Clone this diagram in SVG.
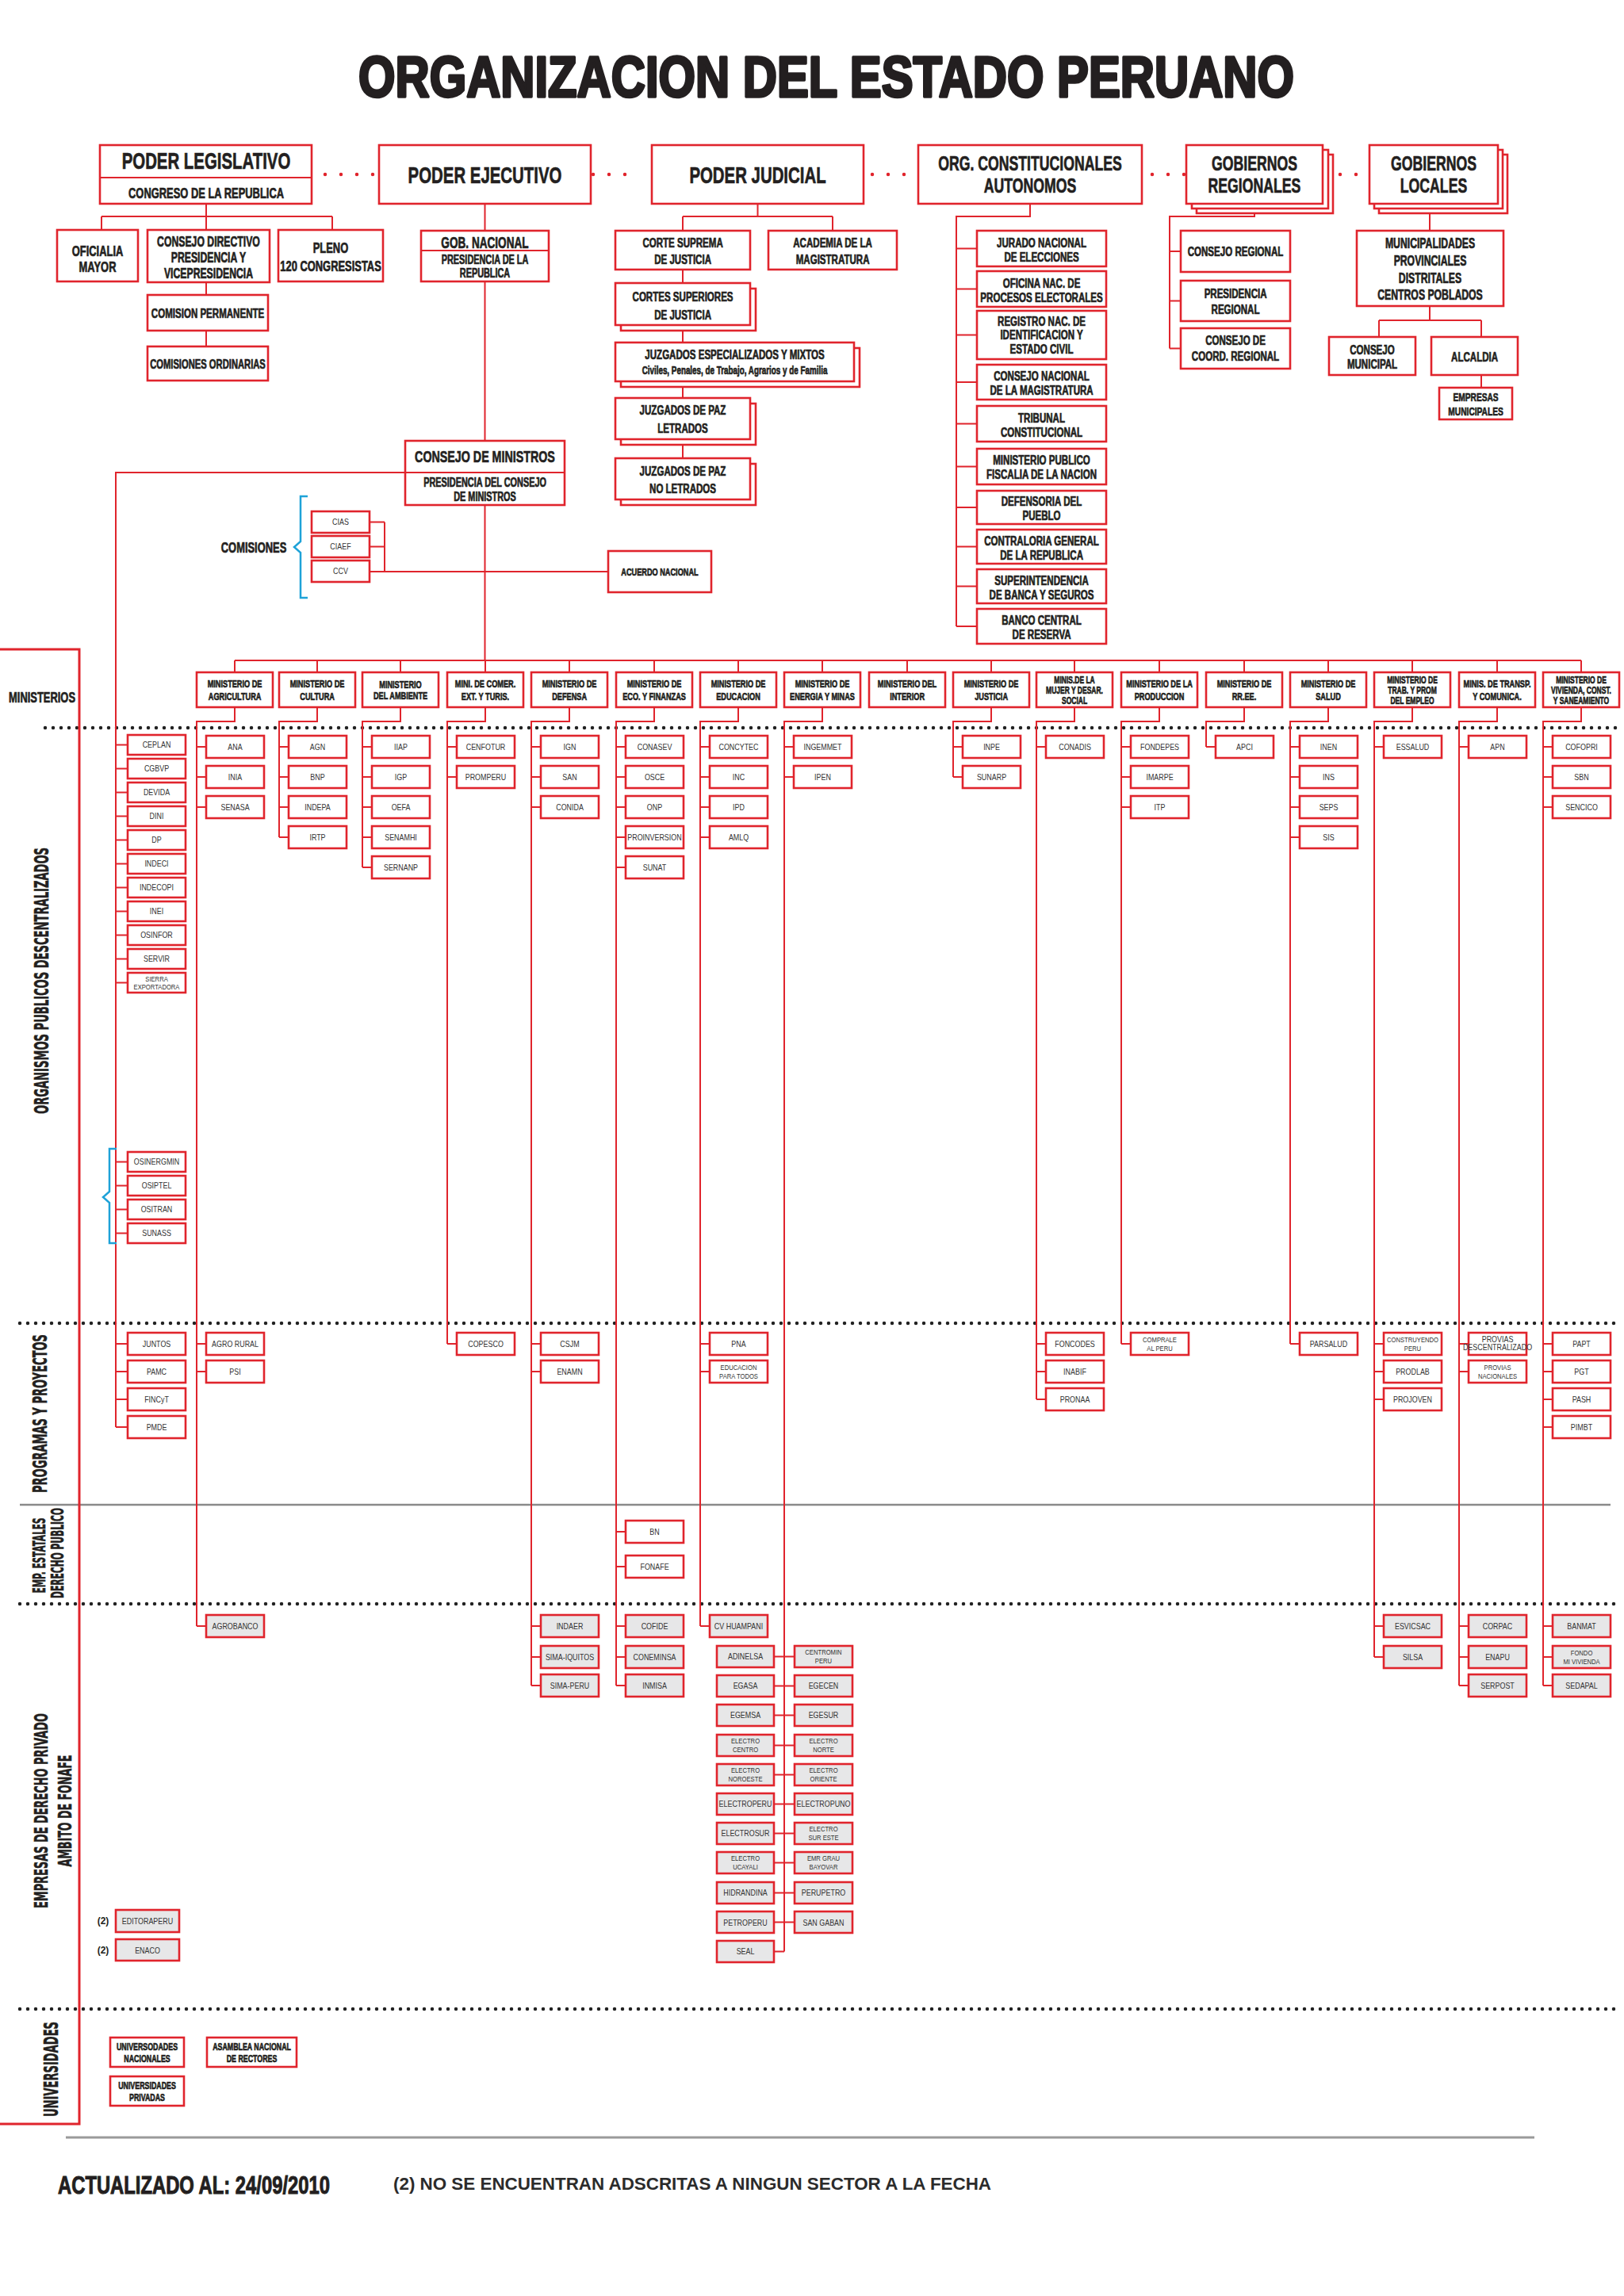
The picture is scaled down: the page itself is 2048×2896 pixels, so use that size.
<svg xmlns="http://www.w3.org/2000/svg" width="2048" height="2896" viewBox="0 0 2048 2896">
<style>
.bx{fill:#fff;stroke:#e0242c;stroke-width:2.6}
.bg{fill:#e7e7e8;stroke:#e0242c;stroke-width:2.6}
.ln{fill:none;stroke:#e0242c;stroke-width:2}
.rd{fill:none;stroke:#e0242c;stroke-width:4.5;stroke-dasharray:0 20;stroke-linecap:round}
.bd{fill:none;stroke:#222;stroke-width:4.5;stroke-dasharray:0 10;stroke-linecap:round}
.br{fill:none;stroke:#1ea2d8;stroke-width:2.5}
text{font-family:'Liberation Sans',Arial,sans-serif}
.h{font-weight:bold;fill:#231f20;stroke:#231f20;stroke-width:.7;text-anchor:middle;transform-box:fill-box;transform-origin:center;transform:scaleX(.68)}
.s{font-size:10.5px;fill:#333;text-anchor:middle;transform-box:fill-box;transform-origin:center;transform:scaleX(.85)}
.s2{font-size:9px}
.m{font-size:13.5px}
.m3{font-size:12.5px}
.sec{font-family:'DejaVu Sans',sans-serif;font-weight:bold;fill:#231f20;stroke:#231f20;stroke-width:.6;text-anchor:middle}
</style>

<text x="1042" y="122" font-family="'DejaVu Sans',sans-serif" font-weight="bold" font-size="72" fill="#231f20" stroke="#231f20" stroke-width="3.5" stroke-linejoin="round" text-anchor="middle" textLength="1180" lengthAdjust="spacingAndGlyphs">ORGANIZACION DEL ESTADO PERUANO</text>

<g id="separators">
<path class="bd" d="M57 918H2040M25 1669H2040M25 2023H2040M25 2534H2040"/>
<path fill="none" stroke="#8a8a8a" stroke-width="2.5" d="M25 1898H2031"/>
<path fill="none" stroke="#9a9a9a" stroke-width="3" d="M83 2696H1935"/>
<path class="rd" d="M410 220H472M748 220H806M1100 220H1158M1453 220H1494M1690 220H1712"/>
</g>

<g id="section-labels">
<path fill="none" stroke="#e0242c" stroke-width="3" d="M0 819H100V2679H0"/>
<text class="h" x="53" y="886" font-size="19">MINISTERIOS</text>
<text class="sec" transform="translate(61,1237) rotate(-90)" font-size="25" textLength="336" lengthAdjust="spacingAndGlyphs">ORGANISMOS PUBLICOS DESCENTRALIZADOS</text>
<text class="sec" transform="translate(59,1783) rotate(-90)" font-size="24" textLength="200" lengthAdjust="spacingAndGlyphs">PROGRAMAS Y PROYECTOS</text>
<text class="sec" transform="translate(57,1962) rotate(-90)" font-size="21" textLength="95" lengthAdjust="spacingAndGlyphs">EMP. ESTATALES</text>
<text class="sec" transform="translate(80,1959) rotate(-90)" font-size="21" textLength="114" lengthAdjust="spacingAndGlyphs">DERECHO PUBLICO</text>
<text class="sec" transform="translate(60,2284) rotate(-90)" font-size="23" textLength="246" lengthAdjust="spacingAndGlyphs">EMPRESAS DE DERECHO PRIVADO</text>
<text class="sec" transform="translate(90,2284) rotate(-90)" font-size="23" textLength="141" lengthAdjust="spacingAndGlyphs">AMBITO DE FONAFE</text>
<text class="sec" transform="translate(73,2610) rotate(-90)" font-size="24" textLength="120" lengthAdjust="spacingAndGlyphs">UNIVERSIDADES</text>
</g>

<g id="connectors" class="ln">
<path d="M260 257V273M128 273H419M128 273V290M260 273V290M419 273V290M260 356V372M260 417V437"/>
<path d="M611.5 257V291M611.5 355V556M611.5 637V833M511 596H146V1800"/>
<path d="M466 658.5H485M466 689.5H485M466 721H767M485 658.5V721"/>
<path d="M955.5 257V273M861 273H1050M861 273V291M1050 273V291M861 340V357M861 410V432M861 481V502M861 554V578"/>
<path d="M1299 257V273H1206V790M1206 313.5H1232M1206 364.5H1232M1206 422.5H1232M1206 482H1232M1206 534.5H1232M1206 588.5H1232M1206 640H1232M1206 689.5H1232M1206 739.5H1232M1206 790H1232"/>
<path d="M1582 269V273H1475V439.5M1475 317H1489M1475 379.5H1489M1475 439.5H1489"/>
<path d="M1803 269V291M1803 386V404M1739 404H1868M1739 404V425M1868 404V425M1868 473V489"/>
<path d="M296 833H1994M296 833V848M400 833V848M505 833V848M612 833V848M718 833V848M825 833V848M931 833V848M1037 833V848M1144 833V848M1250 833V848M1355 833V848M1462 833V848M1569 833V848M1675 833V848M1781 833V848M1888 833V848M1994 833V848"/>
<path d="M296 892V910H248V2051M400 892V910H352V1056M505 892V910H457V1094M612 892V910H564V1695M718 892V910H670V2126M825 892V910H777V2126M931 892V910H883V2051M1037 892V910H989V2461.5M1250 892V910H1202V980M1355 892V910H1307V1765M1462 892V910H1414V1695M1569 892V910H1521V942M1675 892V910H1627V1695M1781 892V910H1733V2090M1888 892V910H1840V2126M1994 892V910H1946V2126"/>
<path d="M146 939.5h15M146 969.5h15M146 999.5h15M146 1029.5h15M146 1059.5h15M146 1089.5h15M146 1119.5h15M146 1149.5h15M146 1179.5h15M146 1209.5h15M146 1239.5h15M146 1465.5h15M146 1495.5h15M146 1525.5h15M146 1555.5h15M146 1695h15M146 1730h15M146 1765h15M146 1800h15"/>
<path d="M248 942h12M248 980h12M248 1018h12M248 1695h12M248 1730h12M248 2051h12M352 942h12M352 980h12M352 1018h12M352 1056h12M457 942h12M457 980h12M457 1018h12M457 1056h12M457 1094h12M564 942h12M564 980h12M564 1695h12"/>
<path d="M670 942h12M670 980h12M670 1018h12M670 1695h12M670 1730h12M670 2051h12M670 2090h12M670 2126h12M777 942h12M777 980h12M777 1018h12M777 1056h12M777 1094h12M777 1932h12M777 1976h12M777 2051h12M777 2090h12M777 2126h12M883 942h12M883 980h12M883 1018h12M883 1056h12M883 1695h12M883 1730h12M883 2051h12M989 942h12M989 980h12"/>
<path d="M1202 942h12M1202 980h12M1307 942h12M1307 1695h12M1307 1730h12M1307 1765h12M1414 942h12M1414 980h12M1414 1018h12M1414 1695h12M1521 942h12M1627 942h12M1627 980h12M1627 1018h12M1627 1056h12M1627 1695h12"/>
<path d="M1733 942h12M1733 1695h12M1733 1730h12M1733 1765h12M1733 2051h12M1733 2090h12M1840 942h12M1840 1695h12M1840 1730h12M1840 2051h12M1840 2090h12M1840 2126h12M1946 942h12M1946 980h12M1946 1018h12M1946 1695h12M1946 1730h12M1946 1765h12M1946 1800h12M1946 2051h12M1946 2090h12M1946 2126h12"/>
<path d="M976 2089.5H1002M976 2126.5H1002M976 2163.5H1002M976 2201.5H1002M976 2238.5H1002M976 2275.5H1002M976 2312.5H1002M976 2349.5H1002M976 2387.5H1002M976 2424.5H1002M976 2461.5H989"/>
</g>

<g id="brackets">
<path class="br" d="M388 626H379V683L371 690L379 697V754H388"/>
<path class="br" d="M147 1449H138V1503L130 1510L138 1517V1568H147"/>
</g>

<!-- TOP LEVEL -->
<g id="poder-legislativo"><rect class="bx" x="126" y="183" width="267" height="74"/><path class="ln" stroke-width="2.6" d="M126 224H393"/><text class="h" x="260" y="213" font-size="30">PODER LEGISLATIVO</text><text class="h" x="260" y="250" font-size="19">CONGRESO DE LA REPUBLICA</text></g>
<g id="poder-ejecutivo"><rect class="bx" x="478" y="183" width="267" height="74"/><text class="h" x="611.5" y="231" font-size="30">PODER EJECUTIVO</text></g>
<g id="poder-judicial"><rect class="bx" x="822" y="183" width="267" height="74"/><text class="h" x="955.5" y="231" font-size="30">PODER JUDICIAL</text></g>
<g id="org-constitucionales"><rect class="bx" x="1158" y="183" width="282" height="74"/><text class="h" x="1299" y="215" font-size="26">ORG. CONSTITUCIONALES</text><text class="h" x="1299" y="243" font-size="26">AUTONOMOS</text></g>
<g id="gobiernos-regionales"><rect class="bx" x="1509" y="195" width="172" height="74"/><rect class="bx" x="1503" y="189" width="172" height="74"/><rect class="bx" x="1496" y="183" width="172" height="74"/><text class="h" x="1582" y="215" font-size="26">GOBIERNOS</text><text class="h" x="1582" y="243" font-size="26">REGIONALES</text></g>
<g id="gobiernos-locales"><rect class="bx" x="1739" y="195" width="162" height="74"/><rect class="bx" x="1733" y="189" width="162" height="74"/><rect class="bx" x="1727" y="183" width="162" height="74"/><text class="h" x="1808" y="215" font-size="26">GOBIERNOS</text><text class="h" x="1808" y="243" font-size="26">LOCALES</text></g>

<!-- LEGISLATIVO -->
<g id="oficialia-mayor"><rect class="bx" x="72" y="290" width="102" height="65"/><text class="h" x="123" y="323" font-size="19">OFICIALIA</text><text class="h" x="123" y="343" font-size="19">MAYOR</text></g>
<g id="consejo-directivo"><rect class="bx" x="186" y="290" width="154" height="66"/><text class="h" x="263" y="311" font-size="18">CONSEJO DIRECTIVO</text><text class="h" x="263" y="331" font-size="18">PRESIDENCIA Y</text><text class="h" x="263" y="351" font-size="18">VICEPRESIDENCIA</text></g>
<g id="pleno"><rect class="bx" x="351" y="290" width="132" height="65"/><text class="h" x="417" y="319" font-size="19">PLENO</text><text class="h" x="417" y="342" font-size="19">120 CONGRESISTAS</text></g>
<g id="comision-permanente"><rect class="bx" x="186" y="372" width="152" height="45"/><text class="h" x="262" y="401" font-size="17">COMISION PERMANENTE</text></g>
<g id="comisiones-ordinarias"><rect class="bx" x="186" y="437" width="152" height="43"/><text class="h" x="262" y="465" font-size="16.5">COMISIONES ORDINARIAS</text></g>

<!-- EJECUTIVO -->
<g id="gob-nacional"><rect class="bx" x="531" y="291" width="161" height="64"/><path class="ln" stroke-width="2.6" d="M531 316H692"/><text class="h" x="611.5" y="313" font-size="20">GOB. NACIONAL</text><text class="h" x="611.5" y="333" font-size="16">PRESIDENCIA DE  LA</text><text class="h" x="611.5" y="350" font-size="16">REPUBLICA</text></g>
<g id="consejo-ministros"><rect class="bx" x="511" y="556" width="201" height="81"/><path class="ln" stroke-width="2.6" d="M511 596H712"/><text class="h" x="611.5" y="583" font-size="21">CONSEJO DE MINISTROS</text><text class="h" x="611.5" y="614" font-size="16">PRESIDENCIA DEL CONSEJO</text><text class="h" x="611.5" y="632" font-size="16">DE MINISTROS</text></g>
<text class="h" x="320" y="697" font-size="19">COMISIONES</text>
<g id="cias"><rect class="bx" x="393" y="645" width="73" height="27"/><text class="s" x="429.5" y="662">CIAS</text></g>
<g id="ciaef"><rect class="bx" x="393" y="676" width="73" height="27"/><text class="s" x="429.5" y="693">CIAEF</text></g>
<g id="ccv"><rect class="bx" x="393" y="707" width="73" height="27"/><text class="s" x="429.5" y="724">CCV</text></g>
<g id="acuerdo-nacional"><rect class="bx" x="767" y="695" width="130" height="52"/><text class="h" x="832" y="726" font-size="13.5">ACUERDO NACIONAL</text></g>

<!-- JUDICIAL -->
<g id="corte-suprema"><rect class="bx" x="776" y="291" width="170" height="49"/><text class="h" x="861" y="312" font-size="17">CORTE SUPREMA</text><text class="h" x="861" y="333" font-size="17">DE JUSTICIA</text></g>
<g id="academia"><rect class="bx" x="969" y="291" width="162" height="49"/><text class="h" x="1050" y="312" font-size="17">ACADEMIA DE LA</text><text class="h" x="1050" y="333" font-size="17">MAGISTRATURA</text></g>
<g id="cortes-superiores"><rect class="bx" x="783" y="364" width="170" height="53"/><rect class="bx" x="776" y="357" width="170" height="53"/><text class="h" x="861" y="380" font-size="17">CORTES SUPERIORES</text><text class="h" x="861" y="403" font-size="17">DE JUSTICIA</text></g>
<g id="juzgados-especializados"><rect class="bx" x="783" y="439" width="301" height="49"/><rect class="bx" x="776" y="432" width="301" height="49"/><text class="h" x="926.5" y="453" font-size="17">JUZGADOS ESPECIALIZADOS Y MIXTOS</text><text class="h" x="926.5" y="472" font-size="14.5">Civiles, Penales, de Trabajo, Agrarios y de Familia</text></g>
<g id="juzgados-paz-letrados"><rect class="bx" x="783" y="509" width="170" height="52"/><rect class="bx" x="776" y="502" width="170" height="52"/><text class="h" x="861" y="523" font-size="17">JUZGADOS DE PAZ</text><text class="h" x="861" y="546" font-size="17">LETRADOS</text></g>
<g id="juzgados-paz-no-letrados"><rect class="bx" x="783" y="585" width="170" height="52"/><rect class="bx" x="776" y="578" width="170" height="52"/><text class="h" x="861" y="600" font-size="17">JUZGADOS DE PAZ</text><text class="h" x="861" y="622" font-size="17">NO LETRADOS</text></g>

<!-- ORG CONSTITUCIONALES -->
<g id="jne"><rect class="bx" x="1232" y="291" width="163" height="45"/><text class="h" x="1313.5" y="312" font-size="17">JURADO NACIONAL</text><text class="h" x="1313.5" y="330" font-size="17">DE ELECCIONES</text></g>
<g id="onpe"><rect class="bx" x="1232" y="342" width="163" height="45"/><text class="h" x="1313.5" y="363" font-size="17">OFICINA NAC. DE</text><text class="h" x="1313.5" y="381" font-size="17">PROCESOS ELECTORALES</text></g>
<g id="reniec"><rect class="bx" x="1232" y="392" width="163" height="61"/><text class="h" x="1313.5" y="411" font-size="17">REGISTRO NAC. DE</text><text class="h" x="1313.5" y="428" font-size="17">IDENTIFICACION Y</text><text class="h" x="1313.5" y="446" font-size="17">ESTADO CIVIL</text></g>
<g id="cnm"><rect class="bx" x="1232" y="460" width="163" height="44"/><text class="h" x="1313.5" y="480" font-size="17">CONSEJO NACIONAL</text><text class="h" x="1313.5" y="498" font-size="17">DE LA MAGISTRATURA</text></g>
<g id="tc"><rect class="bx" x="1232" y="512" width="163" height="45"/><text class="h" x="1313.5" y="533" font-size="17">TRIBUNAL</text><text class="h" x="1313.5" y="551" font-size="17">CONSTITUCIONAL</text></g>
<g id="mp"><rect class="bx" x="1232" y="566" width="163" height="45"/><text class="h" x="1313.5" y="586" font-size="17">MINISTERIO PUBLICO</text><text class="h" x="1313.5" y="604" font-size="17">FISCALIA DE LA NACION</text></g>
<g id="defensoria"><rect class="bx" x="1232" y="619" width="163" height="42"/><text class="h" x="1313.5" y="638" font-size="17">DEFENSORIA DEL</text><text class="h" x="1313.5" y="656" font-size="17">PUEBLO</text></g>
<g id="contraloria"><rect class="bx" x="1232" y="668" width="163" height="43"/><text class="h" x="1313.5" y="688" font-size="17">CONTRALORIA GENERAL</text><text class="h" x="1313.5" y="706" font-size="17">DE LA REPUBLICA</text></g>
<g id="sbs"><rect class="bx" x="1232" y="718" width="163" height="43"/><text class="h" x="1313.5" y="738" font-size="17">SUPERINTENDENCIA</text><text class="h" x="1313.5" y="756" font-size="17">DE BANCA Y SEGUROS</text></g>
<g id="bcr"><rect class="bx" x="1232" y="768" width="163" height="44"/><text class="h" x="1313.5" y="788" font-size="17">BANCO CENTRAL</text><text class="h" x="1313.5" y="806" font-size="17">DE RESERVA</text></g>

<!-- GOB REGIONALES / LOCALES -->
<g id="consejo-regional"><rect class="bx" x="1489" y="291" width="138" height="52"/><text class="h" x="1558" y="323" font-size="17">CONSEJO REGIONAL</text></g>
<g id="presidencia-regional"><rect class="bx" x="1489" y="354" width="138" height="51"/><text class="h" x="1558" y="376" font-size="17">PRESIDENCIA</text><text class="h" x="1558" y="396" font-size="17">REGIONAL</text></g>
<g id="consejo-coord-regional"><rect class="bx" x="1489" y="414" width="138" height="51"/><text class="h" x="1558" y="435" font-size="17">CONSEJO DE</text><text class="h" x="1558" y="455" font-size="17">COORD. REGIONAL</text></g>
<g id="municipalidades"><rect class="bx" x="1711" y="291" width="185" height="95"/><text class="h" x="1803.5" y="313" font-size="18">MUNICIPALIDADES</text><text class="h" x="1803.5" y="335" font-size="18">PROVINCIALES</text><text class="h" x="1803.5" y="357" font-size="18">DISTRITALES</text><text class="h" x="1803.5" y="378" font-size="18">CENTROS POBLADOS</text></g>
<g id="consejo-municipal"><rect class="bx" x="1676" y="425" width="109" height="48"/><text class="h" x="1730.5" y="447" font-size="17">CONSEJO</text><text class="h" x="1730.5" y="465" font-size="17">MUNICIPAL</text></g>
<g id="alcaldia"><rect class="bx" x="1805" y="425" width="109" height="48"/><text class="h" x="1859.5" y="456" font-size="17">ALCALDIA</text></g>
<g id="empresas-municipales"><rect class="bx" x="1815" y="489" width="92" height="40"/><text class="h" x="1861" y="506" font-size="15">EMPRESAS</text><text class="h" x="1861" y="524" font-size="15">MUNICIPALES</text></g>

<!-- MINISTERIOS -->
<g id="min-agricultura"><rect class="bx" x="248" y="848" width="96" height="44"/><text class="h m" x="296" y="867">MINISTERIO DE</text><text class="h m" x="296" y="883">AGRICULTURA</text></g>
<g id="min-cultura"><rect class="bx" x="352" y="848" width="96" height="44"/><text class="h m" x="400" y="867">MINISTERIO DE</text><text class="h m" x="400" y="883">CULTURA</text></g>
<g id="min-ambiente"><rect class="bx" x="457" y="848" width="96" height="44"/><text class="h m" x="505" y="868">MINISTERIO</text><text class="h m" x="505" y="882">DEL AMBIENTE</text></g>
<g id="min-comercio"><rect class="bx" x="564" y="848" width="96" height="44"/><text class="h m" x="612" y="867">MINI. DE COMER.</text><text class="h m" x="612" y="883">EXT. Y TURIS.</text></g>
<g id="min-defensa"><rect class="bx" x="670" y="848" width="96" height="44"/><text class="h m" x="718" y="867">MINISTERIO DE</text><text class="h m" x="718" y="883">DEFENSA</text></g>
<g id="min-economia"><rect class="bx" x="777" y="848" width="96" height="44"/><text class="h m" x="825" y="867">MINISTERIO DE</text><text class="h m" x="825" y="883">ECO. Y FINANZAS</text></g>
<g id="min-educacion"><rect class="bx" x="883" y="848" width="96" height="44"/><text class="h m" x="931" y="867">MINISTERIO DE</text><text class="h m" x="931" y="883">EDUCACION</text></g>
<g id="min-energia"><rect class="bx" x="989" y="848" width="96" height="44"/><text class="h m" x="1037" y="867">MINISTERIO DE</text><text class="h m" x="1037" y="883">ENERGIA Y MINAS</text></g>
<g id="min-interior"><rect class="bx" x="1096" y="848" width="96" height="44"/><text class="h m" x="1144" y="867">MINISTERIO DEL</text><text class="h m" x="1144" y="883">INTERIOR</text></g>
<g id="min-justicia"><rect class="bx" x="1202" y="848" width="96" height="44"/><text class="h m" x="1250" y="867">MINISTERIO DE</text><text class="h m" x="1250" y="883">JUSTICIA</text></g>
<g id="min-mujer"><rect class="bx" x="1307" y="848" width="96" height="44"/><text class="h m3" x="1355" y="862">MINIS.DE LA</text><text class="h m3" x="1355" y="875">MUJER Y DESAR.</text><text class="h m3" x="1355" y="888">SOCIAL</text></g>
<g id="min-produccion"><rect class="bx" x="1414" y="848" width="96" height="44"/><text class="h m" x="1462" y="867">MINISTERIO DE LA</text><text class="h m" x="1462" y="883">PRODUCCION</text></g>
<g id="min-rree"><rect class="bx" x="1521" y="848" width="96" height="44"/><text class="h m" x="1569" y="867">MINISTERIO DE</text><text class="h m" x="1569" y="883">RR.EE.</text></g>
<g id="min-salud"><rect class="bx" x="1627" y="848" width="96" height="44"/><text class="h m" x="1675" y="867">MINISTERIO DE</text><text class="h m" x="1675" y="883">SALUD</text></g>
<g id="min-trabajo"><rect class="bx" x="1733" y="848" width="96" height="44"/><text class="h m3" x="1781" y="862">MINISTERIO DE</text><text class="h m3" x="1781" y="875">TRAB. Y PROM</text><text class="h m3" x="1781" y="888">DEL EMPLEO</text></g>
<g id="min-transportes"><rect class="bx" x="1840" y="848" width="96" height="44"/><text class="h m" x="1888" y="867">MINIS. DE TRANSP.</text><text class="h m" x="1888" y="883">Y COMUNICA.</text></g>
<g id="min-vivienda"><rect class="bx" x="1946" y="848" width="96" height="44"/><text class="h m3" x="1994" y="862">MINISTERIO DE</text><text class="h m3" x="1994" y="875">VIVIENDA, CONST.</text><text class="h m3" x="1994" y="888">Y SANEAMIENTO</text></g>

<!-- PCM organismos -->
<g id="ceplan"><rect class="bx" x="161" y="927" width="73" height="25"/><text class="s" x="197.5" y="943.5">CEPLAN</text></g>
<g id="cgbvp"><rect class="bx" x="161" y="957" width="73" height="25"/><text class="s" x="197.5" y="973.5">CGBVP</text></g>
<g id="devida"><rect class="bx" x="161" y="987" width="73" height="25"/><text class="s" x="197.5" y="1003.5">DEVIDA</text></g>
<g id="dini"><rect class="bx" x="161" y="1017" width="73" height="25"/><text class="s" x="197.5" y="1033.5">DINI</text></g>
<g id="dp"><rect class="bx" x="161" y="1047" width="73" height="25"/><text class="s" x="197.5" y="1063.5">DP</text></g>
<g id="indeci"><rect class="bx" x="161" y="1077" width="73" height="25"/><text class="s" x="197.5" y="1093.5">INDECI</text></g>
<g id="indecopi"><rect class="bx" x="161" y="1107" width="73" height="25"/><text class="s" x="197.5" y="1123.5">INDECOPI</text></g>
<g id="inei"><rect class="bx" x="161" y="1137" width="73" height="25"/><text class="s" x="197.5" y="1153.5">INEI</text></g>
<g id="osinfor"><rect class="bx" x="161" y="1167" width="73" height="25"/><text class="s" x="197.5" y="1183.5">OSINFOR</text></g>
<g id="servir"><rect class="bx" x="161" y="1197" width="73" height="25"/><text class="s" x="197.5" y="1213.5">SERVIR</text></g>
<g id="sierra-exportadora"><rect class="bx" x="161" y="1227" width="73" height="25"/><text class="s s2" x="197.5" y="1238">SIERRA</text><text class="s s2" x="197.5" y="1248">EXPORTADORA</text></g>
<g id="osinergmin"><rect class="bx" x="161" y="1453" width="73" height="25"/><text class="s" x="197.5" y="1469.5">OSINERGMIN</text></g>
<g id="osiptel"><rect class="bx" x="161" y="1483" width="73" height="25"/><text class="s" x="197.5" y="1499.5">OSIPTEL</text></g>
<g id="ositran"><rect class="bx" x="161" y="1513" width="73" height="25"/><text class="s" x="197.5" y="1529.5">OSITRAN</text></g>
<g id="sunass"><rect class="bx" x="161" y="1543" width="73" height="25"/><text class="s" x="197.5" y="1559.5">SUNASS</text></g>
<g id="juntos"><rect class="bx" x="161" y="1681" width="73" height="28"/><text class="s" x="197.5" y="1699">JUNTOS</text></g>
<g id="pamc"><rect class="bx" x="161" y="1716" width="73" height="28"/><text class="s" x="197.5" y="1734">PAMC</text></g>
<g id="fincyt"><rect class="bx" x="161" y="1751" width="73" height="28"/><text class="s" x="197.5" y="1769">FINCyT</text></g>
<g id="pmde"><rect class="bx" x="161" y="1786" width="73" height="28"/><text class="s" x="197.5" y="1804">PMDE</text></g>

<!-- Agricultura -->
<g id="ana"><rect class="bx" x="260" y="928" width="73" height="28"/><text class="s" x="296.5" y="946">ANA</text></g>
<g id="inia"><rect class="bx" x="260" y="966" width="73" height="28"/><text class="s" x="296.5" y="984">INIA</text></g>
<g id="senasa"><rect class="bx" x="260" y="1004" width="73" height="28"/><text class="s" x="296.5" y="1022">SENASA</text></g>
<g id="agro-rural"><rect class="bx" x="260" y="1681" width="73" height="28"/><text class="s" x="296.5" y="1699">AGRO RURAL</text></g>
<g id="psi"><rect class="bx" x="260" y="1716" width="73" height="28"/><text class="s" x="296.5" y="1734">PSI</text></g>
<g id="agrobanco"><rect class="bg" x="260" y="2037" width="73" height="28"/><text class="s" x="296.5" y="2055">AGROBANCO</text></g>
<!-- Cultura -->
<g id="agn"><rect class="bx" x="364" y="928" width="73" height="28"/><text class="s" x="400.5" y="946">AGN</text></g>
<g id="bnp"><rect class="bx" x="364" y="966" width="73" height="28"/><text class="s" x="400.5" y="984">BNP</text></g>
<g id="indepa"><rect class="bx" x="364" y="1004" width="73" height="28"/><text class="s" x="400.5" y="1022">INDEPA</text></g>
<g id="irtp"><rect class="bx" x="364" y="1042" width="73" height="28"/><text class="s" x="400.5" y="1060">IRTP</text></g>
<!-- Ambiente -->
<g id="iiap"><rect class="bx" x="469" y="928" width="73" height="28"/><text class="s" x="505.5" y="946">IIAP</text></g>
<g id="igp"><rect class="bx" x="469" y="966" width="73" height="28"/><text class="s" x="505.5" y="984">IGP</text></g>
<g id="oefa"><rect class="bx" x="469" y="1004" width="73" height="28"/><text class="s" x="505.5" y="1022">OEFA</text></g>
<g id="senamhi"><rect class="bx" x="469" y="1042" width="73" height="28"/><text class="s" x="505.5" y="1060">SENAMHI</text></g>
<g id="sernanp"><rect class="bx" x="469" y="1080" width="73" height="28"/><text class="s" x="505.5" y="1098">SERNANP</text></g>
<!-- Comercio -->
<g id="cenfotur"><rect class="bx" x="576" y="928" width="73" height="28"/><text class="s" x="612.5" y="946">CENFOTUR</text></g>
<g id="promperu"><rect class="bx" x="576" y="966" width="73" height="28"/><text class="s" x="612.5" y="984">PROMPERU</text></g>
<g id="copesco"><rect class="bx" x="576" y="1681" width="73" height="28"/><text class="s" x="612.5" y="1699">COPESCO</text></g>
<!-- Defensa -->
<g id="ign"><rect class="bx" x="682" y="928" width="73" height="28"/><text class="s" x="718.5" y="946">IGN</text></g>
<g id="san"><rect class="bx" x="682" y="966" width="73" height="28"/><text class="s" x="718.5" y="984">SAN</text></g>
<g id="conida"><rect class="bx" x="682" y="1004" width="73" height="28"/><text class="s" x="718.5" y="1022">CONIDA</text></g>
<g id="csjm"><rect class="bx" x="682" y="1681" width="73" height="28"/><text class="s" x="718.5" y="1699">CSJM</text></g>
<g id="enamn"><rect class="bx" x="682" y="1716" width="73" height="28"/><text class="s" x="718.5" y="1734">ENAMN</text></g>
<g id="indaer"><rect class="bg" x="682" y="2037" width="73" height="28"/><text class="s" x="718.5" y="2055">INDAER</text></g>
<g id="sima-iquitos"><rect class="bg" x="682" y="2076" width="73" height="28"/><text class="s" x="718.5" y="2094">SIMA-IQUITOS</text></g>
<g id="sima-peru"><rect class="bg" x="682" y="2112" width="73" height="28"/><text class="s" x="718.5" y="2130">SIMA-PERU</text></g>
<!-- Economia -->
<g id="conasev"><rect class="bx" x="789" y="928" width="73" height="28"/><text class="s" x="825.5" y="946">CONASEV</text></g>
<g id="osce"><rect class="bx" x="789" y="966" width="73" height="28"/><text class="s" x="825.5" y="984">OSCE</text></g>
<g id="onp"><rect class="bx" x="789" y="1004" width="73" height="28"/><text class="s" x="825.5" y="1022">ONP</text></g>
<g id="proinversion"><rect class="bx" x="789" y="1042" width="73" height="28"/><text class="s" x="825.5" y="1060">PROINVERSION</text></g>
<g id="sunat"><rect class="bx" x="789" y="1080" width="73" height="28"/><text class="s" x="825.5" y="1098">SUNAT</text></g>
<g id="bn"><rect class="bx" x="789" y="1918" width="73" height="28"/><text class="s" x="825.5" y="1936">BN</text></g>
<g id="fonafe"><rect class="bx" x="789" y="1962" width="73" height="28"/><text class="s" x="825.5" y="1980">FONAFE</text></g>
<g id="cofide"><rect class="bg" x="789" y="2037" width="73" height="28"/><text class="s" x="825.5" y="2055">COFIDE</text></g>
<g id="coneminsa"><rect class="bg" x="789" y="2076" width="73" height="28"/><text class="s" x="825.5" y="2094">CONEMINSA</text></g>
<g id="inmisa"><rect class="bg" x="789" y="2112" width="73" height="28"/><text class="s" x="825.5" y="2130">INMISA</text></g>
<!-- Educacion -->
<g id="concytec"><rect class="bx" x="895" y="928" width="73" height="28"/><text class="s" x="931.5" y="946">CONCYTEC</text></g>
<g id="inc"><rect class="bx" x="895" y="966" width="73" height="28"/><text class="s" x="931.5" y="984">INC</text></g>
<g id="ipd"><rect class="bx" x="895" y="1004" width="73" height="28"/><text class="s" x="931.5" y="1022">IPD</text></g>
<g id="amlq"><rect class="bx" x="895" y="1042" width="73" height="28"/><text class="s" x="931.5" y="1060">AMLQ</text></g>
<g id="pna"><rect class="bx" x="895" y="1681" width="73" height="28"/><text class="s" x="931.5" y="1699">PNA</text></g>
<g id="educacion-para-todos"><rect class="bx" x="895" y="1716" width="73" height="28"/><text class="s s2" x="931.5" y="1728">EDUCACION</text><text class="s s2" x="931.5" y="1739">PARA TODOS</text></g>
<g id="cv-huampani"><rect class="bg" x="895" y="2037" width="73" height="28"/><text class="s" x="931.5" y="2055">CV HUAMPANI</text></g>
<!-- Energia -->
<g id="ingemmet"><rect class="bx" x="1001" y="928" width="73" height="28"/><text class="s" x="1037.5" y="946">INGEMMET</text></g>
<g id="ipen"><rect class="bx" x="1001" y="966" width="73" height="28"/><text class="s" x="1037.5" y="984">IPEN</text></g>
<g id="adinelsa"><rect class="bg" x="904" y="2076" width="72" height="27"/><text class="s" x="940" y="2093.5">ADINELSA</text></g>
<g id="egasa"><rect class="bg" x="904" y="2113" width="72" height="27"/><text class="s" x="940" y="2130.5">EGASA</text></g>
<g id="egemsa"><rect class="bg" x="904" y="2150" width="72" height="27"/><text class="s" x="940" y="2167.5">EGEMSA</text></g>
<g id="electro-centro"><rect class="bg" x="904" y="2188" width="72" height="27"/><text class="s s2" x="940" y="2199">ELECTRO</text><text class="s s2" x="940" y="2210">CENTRO</text></g>
<g id="electro-noroeste"><rect class="bg" x="904" y="2225" width="72" height="27"/><text class="s s2" x="940" y="2236">ELECTRO</text><text class="s s2" x="940" y="2247">NOROESTE</text></g>
<g id="electroperu"><rect class="bg" x="904" y="2262" width="72" height="27"/><text class="s" x="940" y="2279.5">ELECTROPERU</text></g>
<g id="electrosur"><rect class="bg" x="904" y="2299" width="72" height="27"/><text class="s" x="940" y="2316.5">ELECTROSUR</text></g>
<g id="electro-ucayali"><rect class="bg" x="904" y="2336" width="72" height="27"/><text class="s s2" x="940" y="2347">ELECTRO</text><text class="s s2" x="940" y="2358">UCAYALI</text></g>
<g id="hidrandina"><rect class="bg" x="904" y="2374" width="72" height="27"/><text class="s" x="940" y="2391.5">HIDRANDINA</text></g>
<g id="petroperu"><rect class="bg" x="904" y="2411" width="72" height="27"/><text class="s" x="940" y="2428.5">PETROPERU</text></g>
<g id="seal"><rect class="bg" x="904" y="2448" width="72" height="27"/><text class="s" x="940" y="2465.5">SEAL</text></g>
<g id="centromin"><rect class="bg" x="1002" y="2076" width="73" height="27"/><text class="s s2" x="1038.5" y="2087">CENTROMIN</text><text class="s s2" x="1038.5" y="2098">PERU</text></g>
<g id="egecen"><rect class="bg" x="1002" y="2113" width="73" height="27"/><text class="s" x="1038.5" y="2130.5">EGECEN</text></g>
<g id="egesur"><rect class="bg" x="1002" y="2150" width="73" height="27"/><text class="s" x="1038.5" y="2167.5">EGESUR</text></g>
<g id="electro-norte"><rect class="bg" x="1002" y="2188" width="73" height="27"/><text class="s s2" x="1038.5" y="2199">ELECTRO</text><text class="s s2" x="1038.5" y="2210">NORTE</text></g>
<g id="electro-oriente"><rect class="bg" x="1002" y="2225" width="73" height="27"/><text class="s s2" x="1038.5" y="2236">ELECTRO</text><text class="s s2" x="1038.5" y="2247">ORIENTE</text></g>
<g id="electropuno"><rect class="bg" x="1002" y="2262" width="73" height="27"/><text class="s" x="1038.5" y="2279.5">ELECTROPUNO</text></g>
<g id="electro-sur-este"><rect class="bg" x="1002" y="2299" width="73" height="27"/><text class="s s2" x="1038.5" y="2310">ELECTRO</text><text class="s s2" x="1038.5" y="2321">SUR ESTE</text></g>
<g id="emr-grau"><rect class="bg" x="1002" y="2336" width="73" height="27"/><text class="s s2" x="1038.5" y="2347">EMR GRAU</text><text class="s s2" x="1038.5" y="2358">BAYOVAR</text></g>
<g id="perupetro"><rect class="bg" x="1002" y="2374" width="73" height="27"/><text class="s" x="1038.5" y="2391.5">PERUPETRO</text></g>
<g id="san-gaban"><rect class="bg" x="1002" y="2411" width="73" height="27"/><text class="s" x="1038.5" y="2428.5">SAN GABAN</text></g>
<!-- Justicia -->
<g id="inpe"><rect class="bx" x="1214" y="928" width="73" height="28"/><text class="s" x="1250.5" y="946">INPE</text></g>
<g id="sunarp"><rect class="bx" x="1214" y="966" width="73" height="28"/><text class="s" x="1250.5" y="984">SUNARP</text></g>
<!-- Mujer -->
<g id="conadis"><rect class="bx" x="1319" y="928" width="73" height="28"/><text class="s" x="1355.5" y="946">CONADIS</text></g>
<g id="foncodes"><rect class="bx" x="1319" y="1681" width="73" height="28"/><text class="s" x="1355.5" y="1699">FONCODES</text></g>
<g id="inabif"><rect class="bx" x="1319" y="1716" width="73" height="28"/><text class="s" x="1355.5" y="1734">INABIF</text></g>
<g id="pronaa"><rect class="bx" x="1319" y="1751" width="73" height="28"/><text class="s" x="1355.5" y="1769">PRONAA</text></g>
<!-- Produccion -->
<g id="fondepes"><rect class="bx" x="1426" y="928" width="73" height="28"/><text class="s" x="1462.5" y="946">FONDEPES</text></g>
<g id="imarpe"><rect class="bx" x="1426" y="966" width="73" height="28"/><text class="s" x="1462.5" y="984">IMARPE</text></g>
<g id="itp"><rect class="bx" x="1426" y="1004" width="73" height="28"/><text class="s" x="1462.5" y="1022">ITP</text></g>
<g id="comprale"><rect class="bx" x="1426" y="1681" width="73" height="28"/><text class="s s2" x="1462.5" y="1693">COMPRALE</text><text class="s s2" x="1462.5" y="1704">AL PERU</text></g>
<!-- RREE -->
<g id="apci"><rect class="bx" x="1533" y="928" width="73" height="28"/><text class="s" x="1569.5" y="946">APCI</text></g>
<!-- Salud -->
<g id="inen"><rect class="bx" x="1639" y="928" width="73" height="28"/><text class="s" x="1675.5" y="946">INEN</text></g>
<g id="ins"><rect class="bx" x="1639" y="966" width="73" height="28"/><text class="s" x="1675.5" y="984">INS</text></g>
<g id="seps"><rect class="bx" x="1639" y="1004" width="73" height="28"/><text class="s" x="1675.5" y="1022">SEPS</text></g>
<g id="sis"><rect class="bx" x="1639" y="1042" width="73" height="28"/><text class="s" x="1675.5" y="1060">SIS</text></g>
<g id="parsalud"><rect class="bx" x="1639" y="1681" width="73" height="28"/><text class="s" x="1675.5" y="1699">PARSALUD</text></g>
<!-- Trabajo -->
<g id="essalud"><rect class="bx" x="1745" y="928" width="73" height="28"/><text class="s" x="1781.5" y="946">ESSALUD</text></g>
<g id="construyendo-peru"><rect class="bx" x="1745" y="1681" width="73" height="28"/><text class="s s2" x="1781.5" y="1693">CONSTRUYENDO</text><text class="s s2" x="1781.5" y="1704">PERU</text></g>
<g id="prodlab"><rect class="bx" x="1745" y="1716" width="73" height="28"/><text class="s" x="1781.5" y="1734">PRODLAB</text></g>
<g id="projoven"><rect class="bx" x="1745" y="1751" width="73" height="28"/><text class="s" x="1781.5" y="1769">PROJOVEN</text></g>
<g id="esvicsac"><rect class="bg" x="1745" y="2037" width="73" height="28"/><text class="s" x="1781.5" y="2055">ESVICSAC</text></g>
<g id="silsa"><rect class="bg" x="1745" y="2076" width="73" height="28"/><text class="s" x="1781.5" y="2094">SILSA</text></g>
<!-- Transportes -->
<g id="apn"><rect class="bx" x="1852" y="928" width="73" height="28"/><text class="s" x="1888.5" y="946">APN</text></g>
<g id="provias-descentralizado"><rect class="bx" x="1852" y="1681" width="73" height="28"/><text class="s" x="1888.5" y="1693" font-size="7px">PROVIAS</text><text class="s" x="1888.5" y="1703" font-size="7px">DESCENTRALIZADO</text></g>
<g id="provias-nacionales"><rect class="bx" x="1852" y="1716" width="73" height="28"/><text class="s s2" x="1888.5" y="1728">PROVIAS</text><text class="s s2" x="1888.5" y="1739">NACIONALES</text></g>
<g id="corpac"><rect class="bg" x="1852" y="2037" width="73" height="28"/><text class="s" x="1888.5" y="2055">CORPAC</text></g>
<g id="enapu"><rect class="bg" x="1852" y="2076" width="73" height="28"/><text class="s" x="1888.5" y="2094">ENAPU</text></g>
<g id="serpost"><rect class="bg" x="1852" y="2112" width="73" height="28"/><text class="s" x="1888.5" y="2130">SERPOST</text></g>
<!-- Vivienda -->
<g id="cofopri"><rect class="bx" x="1958" y="928" width="73" height="28"/><text class="s" x="1994.5" y="946">COFOPRI</text></g>
<g id="sbn"><rect class="bx" x="1958" y="966" width="73" height="28"/><text class="s" x="1994.5" y="984">SBN</text></g>
<g id="sencico"><rect class="bx" x="1958" y="1004" width="73" height="28"/><text class="s" x="1994.5" y="1022">SENCICO</text></g>
<g id="papt"><rect class="bx" x="1958" y="1681" width="73" height="28"/><text class="s" x="1994.5" y="1699">PAPT</text></g>
<g id="pgt"><rect class="bx" x="1958" y="1716" width="73" height="28"/><text class="s" x="1994.5" y="1734">PGT</text></g>
<g id="pash"><rect class="bx" x="1958" y="1751" width="73" height="28"/><text class="s" x="1994.5" y="1769">PASH</text></g>
<g id="pimbt"><rect class="bx" x="1958" y="1786" width="73" height="28"/><text class="s" x="1994.5" y="1804">PIMBT</text></g>
<g id="banmat"><rect class="bg" x="1958" y="2037" width="73" height="28"/><text class="s" x="1994.5" y="2055">BANMAT</text></g>
<g id="fondo-mivivienda"><rect class="bg" x="1958" y="2076" width="73" height="28"/><text class="s s2" x="1994.5" y="2088">FONDO</text><text class="s s2" x="1994.5" y="2099">MI VIVIENDA</text></g>
<g id="sedapal"><rect class="bg" x="1958" y="2112" width="73" height="28"/><text class="s" x="1994.5" y="2130">SEDAPAL</text></g>

<!-- Sin sector -->
<g id="editoraperu"><text x="130" y="2427" font-size="12" font-weight="bold" fill="#231f20" text-anchor="middle">(2)</text><rect class="bg" x="146" y="2409" width="80" height="28"/><text class="s" x="186" y="2427">EDITORAPERU</text></g>
<g id="enaco"><text x="130" y="2464" font-size="12" font-weight="bold" fill="#231f20" text-anchor="middle">(2)</text><rect class="bg" x="146" y="2446" width="80" height="27"/><text class="s" x="186" y="2464">ENACO</text></g>

<!-- Universidades -->
<g id="univ-nacionales"><rect class="bx" x="139" y="2570" width="93" height="37"/><text class="h" x="185.5" y="2586" font-size="13">UNIVERSODADES</text><text class="h" x="185.5" y="2601" font-size="13">NACIONALES</text></g>
<g id="anr"><rect class="bx" x="261" y="2570" width="113" height="37"/><text class="h" x="317.5" y="2586" font-size="13">ASAMBLEA NACIONAL</text><text class="h" x="317.5" y="2601" font-size="13">DE RECTORES</text></g>
<g id="univ-privadas"><rect class="bx" x="139" y="2619" width="93" height="37"/><text class="h" x="185.5" y="2635" font-size="13">UNIVERSIDADES</text><text class="h" x="185.5" y="2650" font-size="13">PRIVADAS</text></g>

<g id="footer">
<text x="73" y="2767" font-size="31" font-weight="bold" fill="#231f20" stroke="#231f20" stroke-width="1" textLength="343" lengthAdjust="spacingAndGlyphs">ACTUALIZADO AL:  24/09/2010</text>
<text x="496" y="2762" font-size="22" font-weight="bold" fill="#2b2b2b" textLength="754" lengthAdjust="spacingAndGlyphs">(2) NO SE ENCUENTRAN ADSCRITAS A NINGUN SECTOR A LA FECHA</text>
</g>
</svg>
